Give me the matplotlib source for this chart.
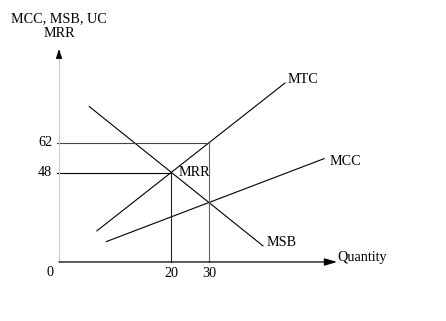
import matplotlib
matplotlib.use("Agg")
import matplotlib.pyplot as plt

# ---- data (schematic economic diagram) ----
curve_names = ["MTC", "MSB", "MCC"]
mtc_x = [0.5, 50.0]
mtc_y = [21.0, 90.0]
msb_x = [-1.5, 44.2]
msb_y = [79.0, 14.0]
mcc_x = [3.0, 60.3]
mcc_y = [16.0, 54.7]

q_ticks = [20, 30]          # quantities marked on the x axis
p_ticks = [48, 62]          # values marked on the y axis
q_labels = ["20", "30"]
p_labels = ["48", "62"]

x_label = "Quantity"
y_label_lines = ["MCC, MSB, UC", "MRR"]
point_label = "MRR"

# ---- layout: axis origin and extents in data units ----
x0, y0 = -9.47, 6.47      # origin of the drawn axes
x_end, y_end = 63.7, 105.9

fig = plt.figure(figsize=(4.46, 3.21), dpi=100)
ax = fig.add_axes([0, 0, 1, 1])
ax.set_xlim(-25.0, 92.37)
ax.set_ylim(-21.07, 128.73)
ax.axis("off")

plt.rcParams["font.family"] = ["Liberation Serif", "DejaVu Serif"]
fs = 10.2

lw = 0.8
# curves
ax.plot(mtc_x, mtc_y, color="black", lw=lw)
ax.plot(msb_x, msb_y, color="black", lw=lw)
ax.plot(mcc_x, mcc_y, color="black", lw=lw)

# guide lines
ax.plot([x0 - 0.4, q_ticks[1]], [p_ticks[1], p_ticks[1]], color="#444444", lw=lw)
ax.plot([q_ticks[1], q_ticks[1]], [y0, p_ticks[1]], color="#666666", lw=lw)
ax.plot([x0 - 0.4, q_ticks[0]], [p_ticks[0], p_ticks[0]], color="black", lw=lw)
ax.plot([q_ticks[0], q_ticks[0]], [y0, p_ticks[0]], color="#222222", lw=lw)

# axes with arrows
ax.plot([x0, x0], [y0, y_end - 2.5], color="#cccccc", lw=0.8)
ax.annotate("", xy=(x0, y_end), xytext=(x0, y_end - 3.0),
            arrowprops=dict(arrowstyle="-|>,head_length=0.55,head_width=0.18",
                            color="black", lw=0.8, shrinkA=0, shrinkB=0))
ax.annotate("", xy=(x_end, y0), xytext=(x0, y0),
            arrowprops=dict(arrowstyle="-|>,head_length=0.75,head_width=0.22",
                            color="black", lw=0.9, shrinkA=0, shrinkB=0))

# curve labels
ax.text(mtc_x[1] + 0.6, mtc_y[1] + 1.5, curve_names[0], fontsize=fs,
        ha="left", va="center")
ax.text(msb_x[1] + 1.0, msb_y[1] + 1.5, curve_names[1], fontsize=fs,
        ha="left", va="center")
ax.text(mcc_x[1] + 1.3, mcc_y[1] - 1.4, curve_names[2], fontsize=fs,
        ha="left", va="center")
ax.text(q_ticks[0] + 2.0, p_ticks[0], point_label, fontsize=fs,
        ha="left", va="center")

# tick labels
for q, lab in zip(q_ticks, q_labels):
    ax.text(q, y0 - 5.3, lab, fontsize=fs, ha="center", va="center")
for p, lab in zip(p_ticks, p_labels):
    ax.text(x0 - 1.8, p, lab, fontsize=fs, ha="right", va="center")
ax.text(x0 - 2.4, y0 - 4.7, "0", fontsize=fs, ha="center", va="center")

# axis titles
ax.text(x_end + 0.1, y0 + 1.9, x_label, fontsize=fs, ha="left", va="center")
ax.text(x0, 120.0, y_label_lines[0], fontsize=fs, ha="center", va="center")
ax.text(x0, 113.3, y_label_lines[1], fontsize=fs, ha="center", va="center")

fig.savefig("out.png", dpi=100)
